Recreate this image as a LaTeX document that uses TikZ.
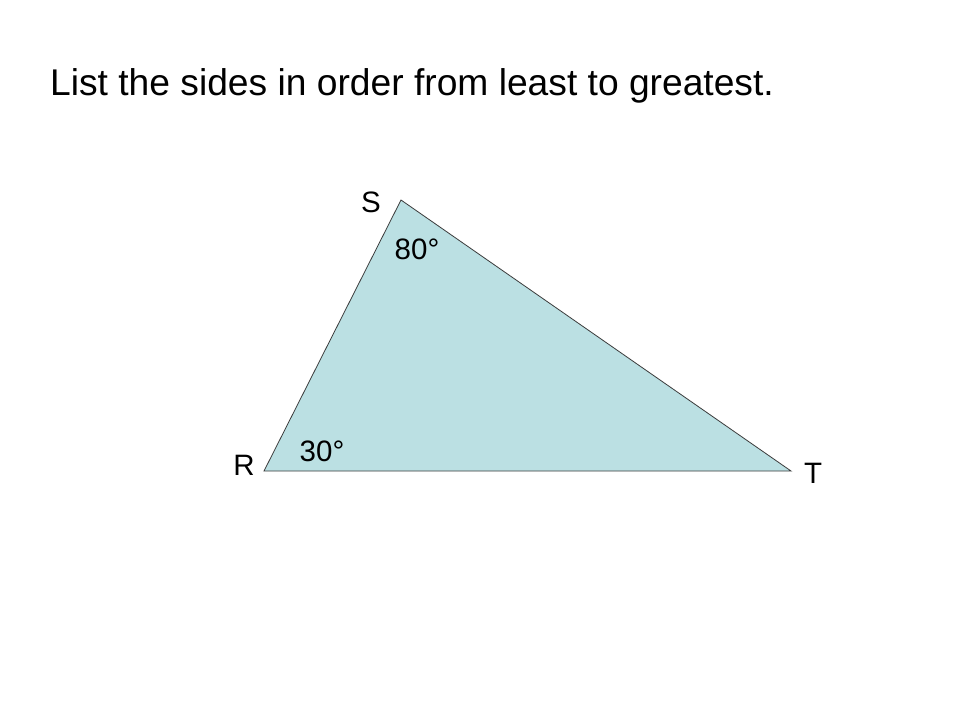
\documentclass[tikz,border=0pt]{standalone}
\usepackage{fontspec}
\setmainfont{Liberation Sans}
\begin{document}
\begin{tikzpicture}[x=1pt,y=-1pt,
  lbl/.style={font=\fontsize{29.5}{34}\selectfont, inner sep=0pt, text=black},
  title/.style={font=\fontsize{37.2}{44}\selectfont, inner sep=0pt, anchor=west}]
\useasboundingbox (0,0) rectangle (960,720);
\fill[white] (0,0) rectangle (960,720);
\coordinate (S) at (401,200);
\coordinate (R) at (264,471);
\coordinate (T) at (791,471);
\filldraw[fill={rgb,255:red,187;green,224;blue,227}, draw={rgb,255:red,60;green,60;blue,60}, line width=0.8pt] (S) -- (T) -- (R) -- cycle;
\node[title] (t) at (50,86) {List the sides in order from least to greatest.};
\node[lbl] (ls) at (371,202) {S};
\node[lbl] (a80) at (417,249) {80°};
\node[lbl] (lr) at (244,465) {R};
\node[lbl] (a30) at (322,451) {30°};
\node[lbl] (lt) at (813,473) {T};
\end{tikzpicture}
\end{document}
